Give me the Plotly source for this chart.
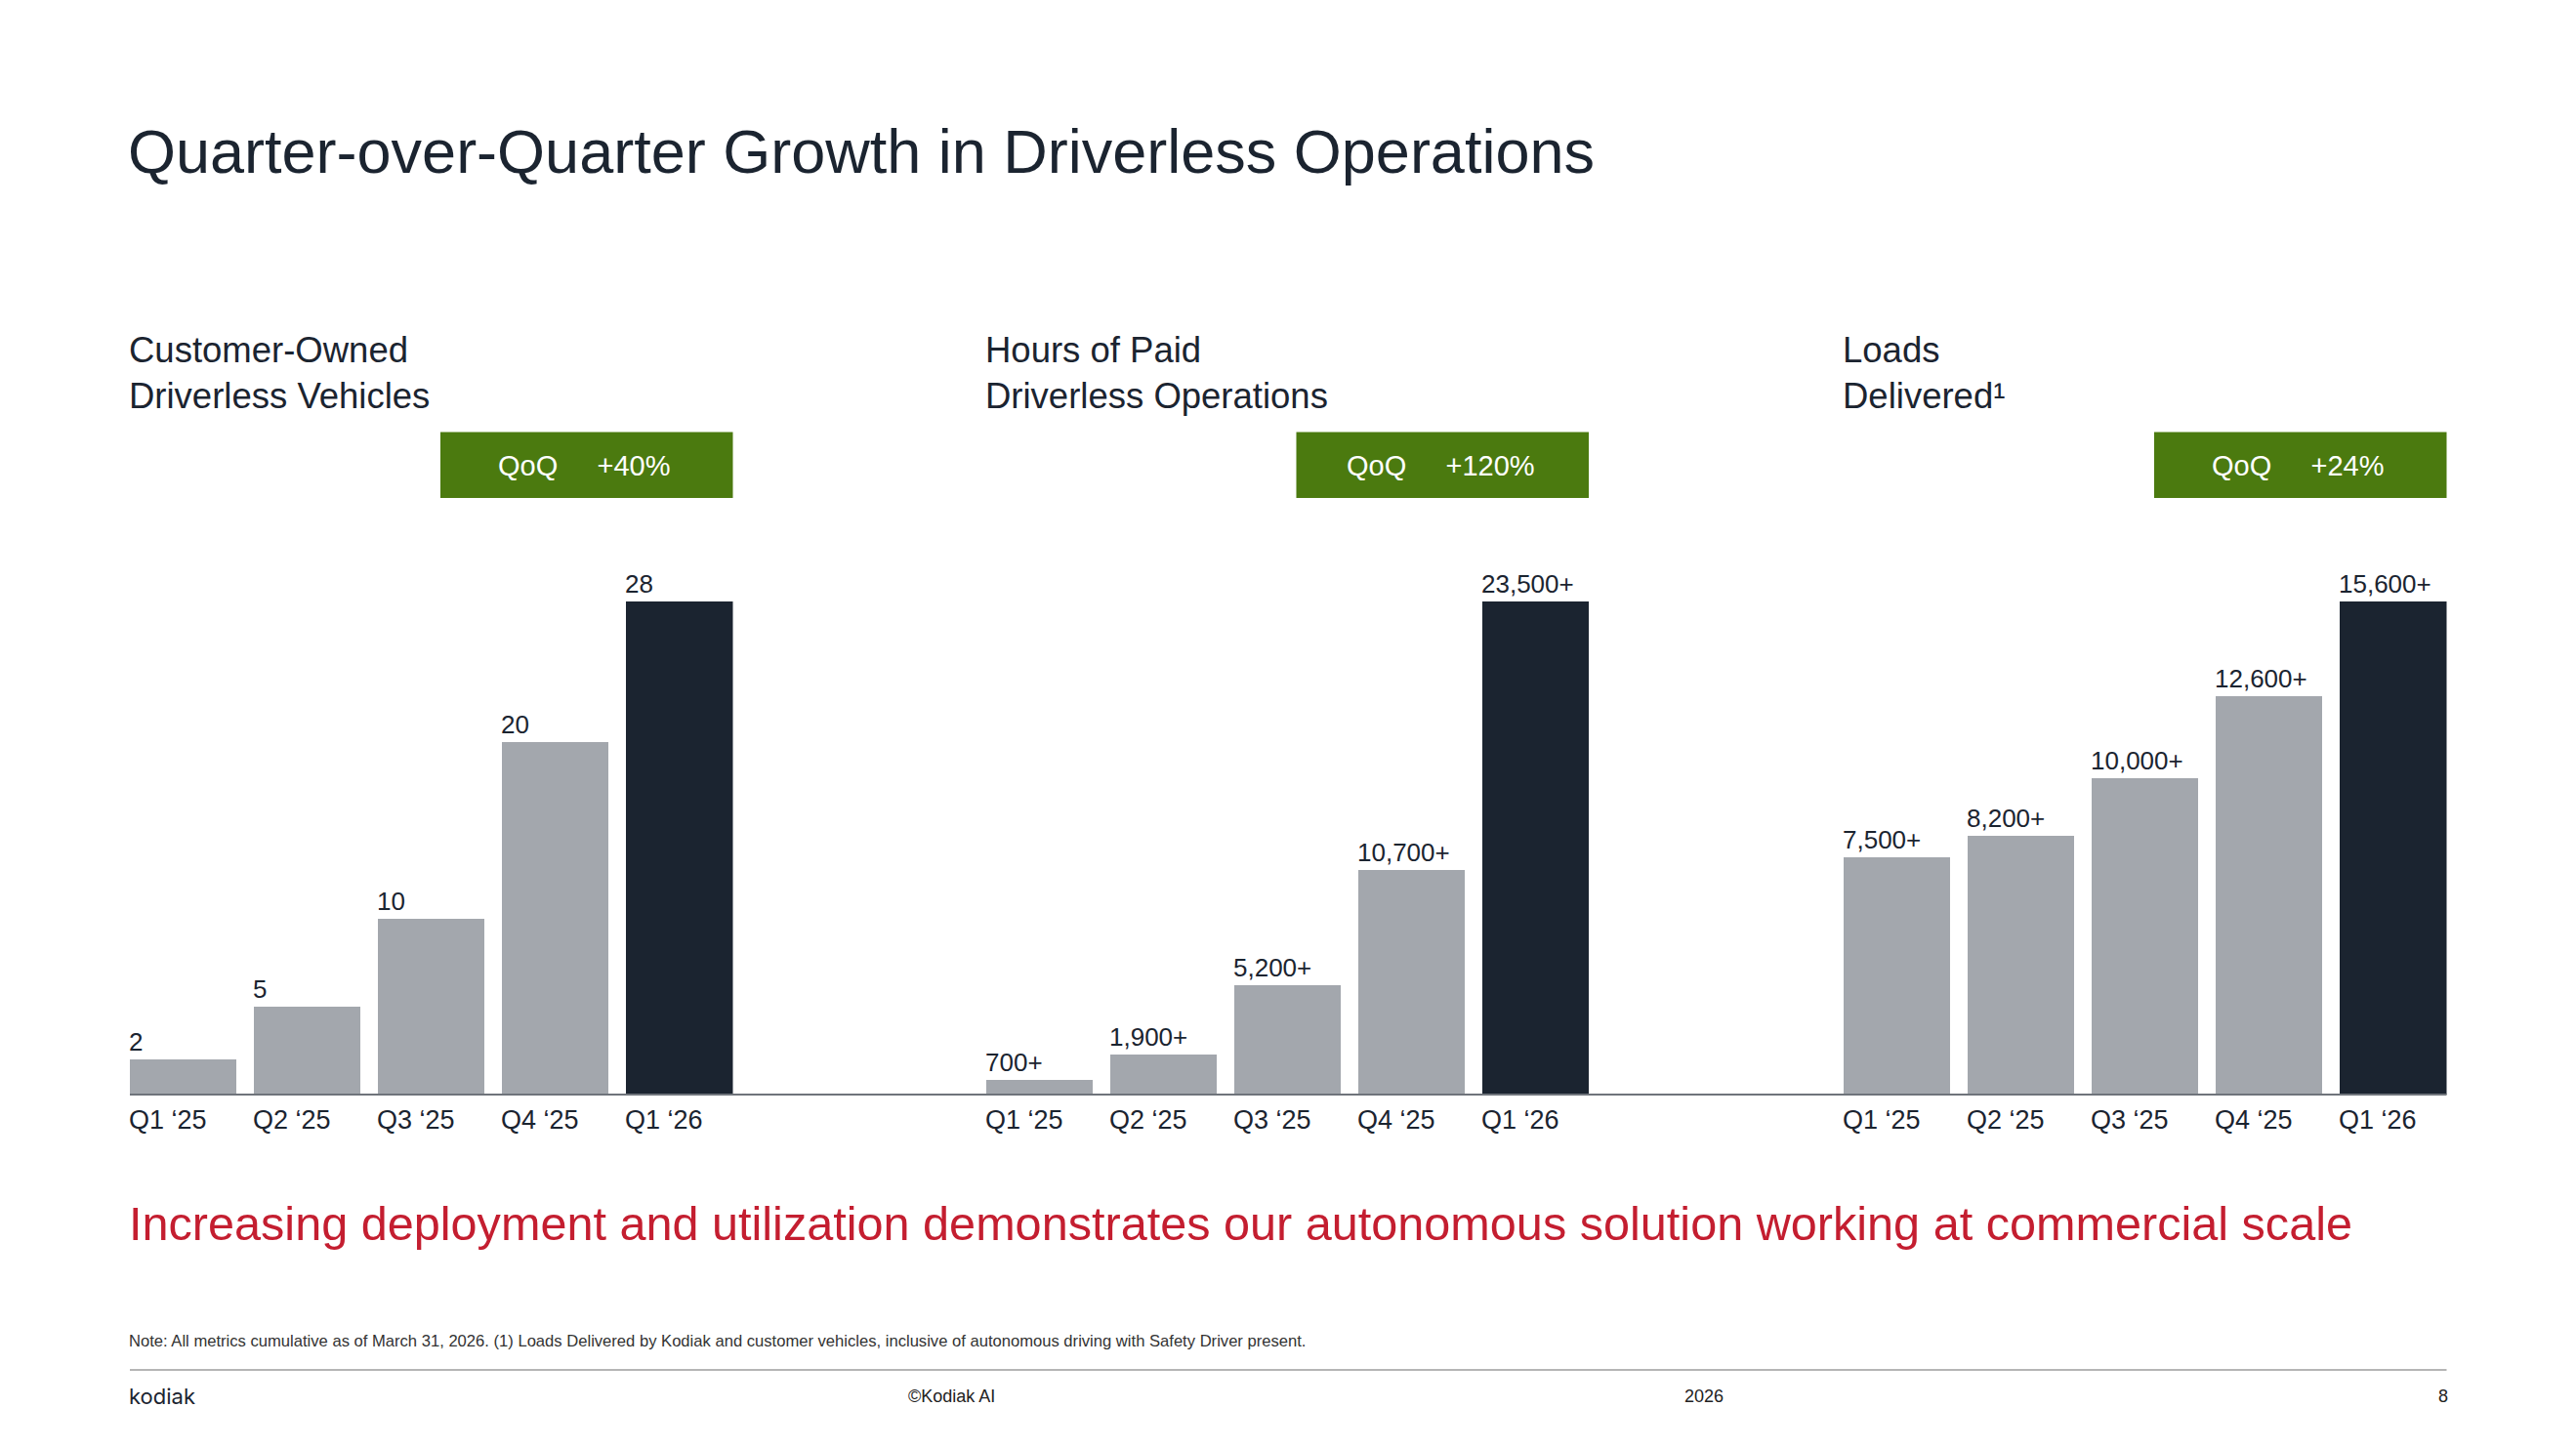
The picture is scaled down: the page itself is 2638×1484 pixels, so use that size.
import plotly.graph_objects as go

W, H = 2638, 1484

# ---------------- data ----------------
quarters = ["Q1 \u201825", "Q2 \u201825", "Q3 \u201825", "Q4 \u201825", "Q1 \u201826"]

vehicles = [2, 5, 10, 20, 28]
vehicles_labels = ["2", "5", "10", "20", "28"]

hours = [700, 1900, 5200, 10700, 23500]
hours_labels = ["700+", "1,900+", "5,200+", "10,700+", "23,500+"]

loads = [7500, 8200, 10000, 12600, 15600]
loads_labels = ["7,500+", "8,200+", "10,000+", "12,600+", "15,600+"]

panel_titles = ["Customer-Owned<br>Driverless Vehicles",
                "Hours of Paid<br>Driverless Operations",
                "Loads<br>Delivered\u00b9"]
qoq_values = ["+40%", "+120%", "+24%"]

title = "Quarter-over-Quarter Growth in Driverless Operations"
takeaway = ("Increasing deployment and utilization demonstrates our autonomous "
            "solution working at commercial scale")
note = ("Note: All metrics cumulative as of March 31, 2026. (1) Loads Delivered by Kodiak "
        "and customer vehicles, inclusive of autonomous driving with Safety Driver present.")
footer_left, footer_mid, footer_year, footer_page = "kodiak", "\u00a9Kodiak AI", "2026", "8"

# ---------------- styling ----------------
FONT = "Liberation Sans, Arial, Helvetica, sans-serif"
NAVY = "#1b2430"
GRAY_BAR = "#a3a7ad"
GREEN = "#4b7a0f"
RED = "#c41e30"

def px_x(v):
    return v / W

def px_y(v):
    return 1 - v / H

panels = [(vehicles, vehicles_labels), (hours, hours_labels), (loads, loads_labels)]
left_px = [133, 1009.5, 1888]
right_px = [750.5, 1627, 2505.5]
base_px, top_px = 1121, 616
BW = 0.86  # bar width in category units

fig = go.Figure()
annotations = []
shapes = []

for k, (vals, labs) in enumerate(panels):
    ax = "" if k == 0 else str(k + 1)
    xs = list(range(len(vals)))
    colors = [GRAY_BAR] * (len(vals) - 1) + [NAVY]
    fig.add_trace(go.Bar(
        x=xs, y=vals, width=BW, marker=dict(color=colors, line=dict(width=0)),
        xaxis="x" + ax, yaxis="y" + ax, showlegend=False, hoverinfo="skip",
    ))
    fig.layout["xaxis" + ax] = dict(
        domain=[px_x(left_px[k]), px_x(right_px[k])],
        range=[-BW / 2, len(vals) - 1 + BW / 2],
        visible=False, fixedrange=True, anchor="y" + ax,
    )
    fig.layout["yaxis" + ax] = dict(
        domain=[px_y(base_px), px_y(top_px)],
        range=[0, max(vals)], visible=False, fixedrange=True, anchor="x" + ax,
    )
    for i, (v, lab) in enumerate(zip(vals, labs)):
        # value label, left aligned over bar
        annotations.append(dict(
            x=i - BW / 2, y=v, xref="x" + ax, yref="y" + ax,
            text=lab, showarrow=False, xanchor="left", yanchor="bottom",
            xshift=-3, yshift=1,
            font=dict(family=FONT, size=26, color=NAVY),
        ))
        # category label, left aligned under bar
        annotations.append(dict(
            x=i - BW / 2, y=0, xref="x" + ax, yref="y" + ax,
            text=quarters[i], showarrow=False, xanchor="left", yanchor="top",
            xshift=-3, yshift=-9,
            font=dict(family=FONT, size=27, color=NAVY),
        ))
    # panel title
    annotations.append(dict(
        x=px_x(left_px[k]), y=px_y(382), xref="paper", yref="paper",
        text=panel_titles[k], showarrow=False, xanchor="left", yanchor="middle",
        align="left", xshift=-3,
        font=dict(family=FONT, size=36.5, color=NAVY),
    ))
    # QoQ box
    bx0, bx1 = right_px[k] - 299.5, right_px[k]
    shapes.append(dict(
        type="rect", xref="paper", yref="paper",
        x0=px_x(bx0), x1=px_x(bx1), y0=px_y(510), y1=px_y(442.5),
        fillcolor=GREEN, line=dict(width=0), layer="above",
    ))
    annotations.append(dict(
        x=px_x((bx0 + bx1) / 2), y=px_y(477), xref="paper", yref="paper",
        text="QoQ" + "\u00a0" * 5 + qoq_values[k], showarrow=False,
        xanchor="center", yanchor="middle", xshift=-2,
        font=dict(family=FONT, size=29, color="white"),
    ))

# baseline across all panels
shapes.append(dict(
    type="line", xref="paper", yref="paper",
    x0=px_x(133), x1=px_x(2505.5), y0=px_y(base_px), y1=px_y(base_px),
    line=dict(color="#6f747b", width=2), layer="above",
))
# footer rule
shapes.append(dict(
    type="line", xref="paper", yref="paper",
    x0=px_x(133), x1=px_x(2505.5), y0=px_y(1403), y1=px_y(1403),
    line=dict(color="#b5b5b5", width=2),
))

# title
annotations.append(dict(
    x=px_x(133), y=px_y(155), xref="paper", yref="paper", text=title,
    showarrow=False, xanchor="left", yanchor="middle", xshift=-4,
    font=dict(family=FONT, size=63, color=NAVY),
))
# takeaway
annotations.append(dict(
    x=px_x(133), y=px_y(1253), xref="paper", yref="paper", text=takeaway,
    showarrow=False, xanchor="left", yanchor="middle", xshift=-3,
    font=dict(family=FONT, size=48.6, color=RED),
))
# note
annotations.append(dict(
    x=px_x(133), y=px_y(1373), xref="paper", yref="paper", text=note,
    showarrow=False, xanchor="left", yanchor="middle", xshift=-3,
    font=dict(family=FONT, size=16.6, color="#333333"),
))
# footer texts
annotations.append(dict(
    x=px_x(133), y=px_y(1430), xref="paper", yref="paper", text=footer_left,
    showarrow=False, xanchor="left", yanchor="middle", xshift=-3,
    font=dict(family="Inter, Lato, sans-serif", size=22, color=NAVY),
))
annotations.append(dict(
    x=px_x(974), y=px_y(1430), xref="paper", yref="paper", text=footer_mid,
    showarrow=False, xanchor="center", yanchor="middle",
    font=dict(family=FONT, size=18, color="#222222"),
))
annotations.append(dict(
    x=px_x(1745), y=px_y(1430), xref="paper", yref="paper", text=footer_year,
    showarrow=False, xanchor="center", yanchor="middle",
    font=dict(family=FONT, size=18, color="#222222"),
))
annotations.append(dict(
    x=px_x(2505.5), y=px_y(1430), xref="paper", yref="paper", text=footer_page,
    showarrow=False, xanchor="right", yanchor="middle", xshift=3,
    font=dict(family=FONT, size=18, color="#222222"),
))

fig.update_layout(
    width=W, height=H,
    margin=dict(l=0, r=0, t=0, b=0),
    paper_bgcolor="white", plot_bgcolor="white",
    bargap=0, annotations=annotations, shapes=shapes,
    font=dict(family=FONT),
)

fig.write_html("out.html", config={"displayModeBar": False})
